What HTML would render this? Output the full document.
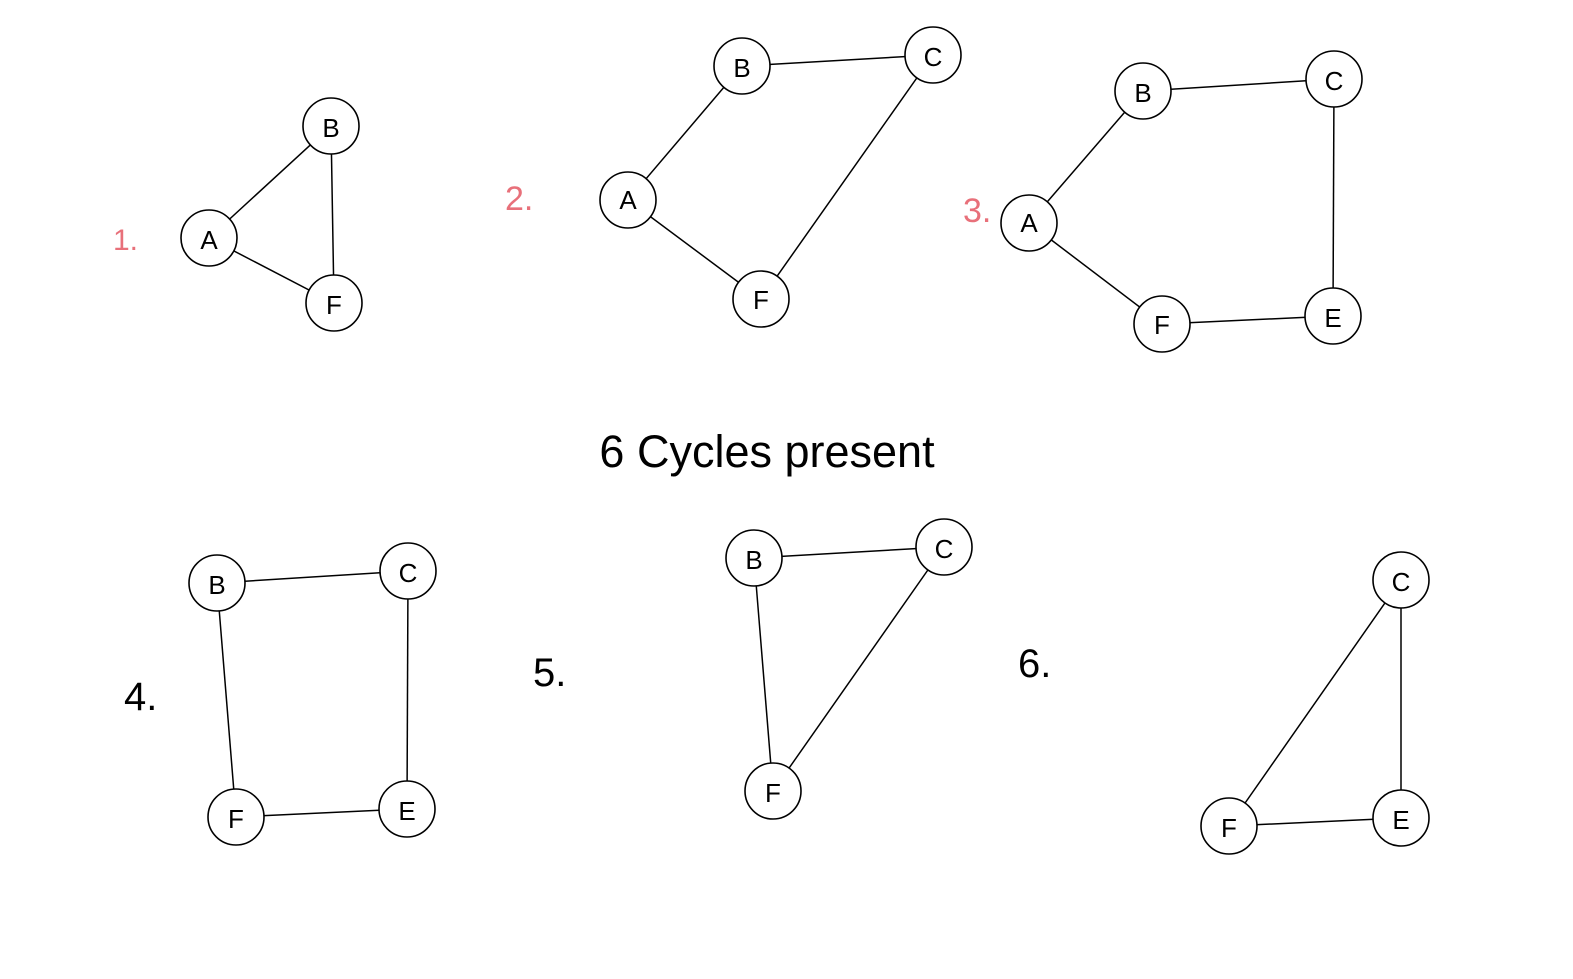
<!DOCTYPE html>
<html><head><meta charset="utf-8"><style>
html,body{margin:0;padding:0;background:#fff;}
svg{display:block;}
.n{fill:#fff;stroke:#000;stroke-width:1.6;}
.e{stroke:#000;stroke-width:1.5;fill:none;}
.t{font-family:"Liberation Sans",sans-serif;font-size:26px;text-anchor:middle;dominant-baseline:central;font-weight:300;}
.r{font-family:"Liberation Sans",sans-serif;font-size:34px;fill:#e8707a;font-weight:300;}
.k{font-family:"Liberation Sans",sans-serif;font-size:40px;fill:#000;font-weight:300;}
</style></head><body>
<svg width="1573" height="979" viewBox="0 0 1573 979" xmlns="http://www.w3.org/2000/svg">
<line class="e" x1="331" y1="126" x2="209" y2="238"/>
<line class="e" x1="331" y1="126" x2="334" y2="303"/>
<line class="e" x1="209" y1="238" x2="334" y2="303"/>
<line class="e" x1="742" y1="66" x2="933" y2="55"/>
<line class="e" x1="742" y1="66" x2="628" y2="200"/>
<line class="e" x1="628" y1="200" x2="761" y2="299"/>
<line class="e" x1="933" y1="55" x2="761" y2="299"/>
<line class="e" x1="1143" y1="91" x2="1334" y2="79"/>
<line class="e" x1="1143" y1="91" x2="1029" y2="223"/>
<line class="e" x1="1029" y1="223" x2="1162" y2="324"/>
<line class="e" x1="1162" y1="324" x2="1333" y2="316"/>
<line class="e" x1="1334" y1="79" x2="1333" y2="316"/>
<line class="e" x1="217" y1="583" x2="408" y2="571"/>
<line class="e" x1="217" y1="583" x2="236" y2="817"/>
<line class="e" x1="236" y1="817" x2="407" y2="809"/>
<line class="e" x1="408" y1="571" x2="407" y2="809"/>
<line class="e" x1="754" y1="558" x2="944" y2="547"/>
<line class="e" x1="754" y1="558" x2="773" y2="791"/>
<line class="e" x1="944" y1="547" x2="773" y2="791"/>
<line class="e" x1="1401" y1="580" x2="1229" y2="826"/>
<line class="e" x1="1401" y1="580" x2="1401" y2="818"/>
<line class="e" x1="1229" y1="826" x2="1401" y2="818"/>

<g>
<circle class="n" cx="331" cy="126" r="28"/><text class="t" x="331" y="128">B</text>
<circle class="n" cx="209" cy="238" r="28"/><text class="t" x="209" y="240">A</text>
<circle class="n" cx="334" cy="303" r="28"/><text class="t" x="334" y="305">F</text>
<circle class="n" cx="742" cy="66" r="28"/><text class="t" x="742" y="68">B</text>
<circle class="n" cx="933" cy="55" r="28"/><text class="t" x="933" y="57">C</text>
<circle class="n" cx="628" cy="200" r="28"/><text class="t" x="628" y="200">A</text>
<circle class="n" cx="761" cy="299" r="28"/><text class="t" x="761" y="300">F</text>
<circle class="n" cx="1143" cy="91" r="28"/><text class="t" x="1143" y="93">B</text>
<circle class="n" cx="1334" cy="79" r="28"/><text class="t" x="1334" y="81">C</text>
<circle class="n" cx="1029" cy="223" r="28"/><text class="t" x="1029" y="223">A</text>
<circle class="n" cx="1162" cy="324" r="28"/><text class="t" x="1162" y="325">F</text>
<circle class="n" cx="1333" cy="316" r="28"/><text class="t" x="1333" y="318">E</text>
<circle class="n" cx="217" cy="583" r="28"/><text class="t" x="217" y="585">B</text>
<circle class="n" cx="408" cy="571" r="28"/><text class="t" x="408" y="573">C</text>
<circle class="n" cx="236" cy="817" r="28"/><text class="t" x="236" y="819">F</text>
<circle class="n" cx="407" cy="809" r="28"/><text class="t" x="407" y="811">E</text>
<circle class="n" cx="754" cy="558" r="28"/><text class="t" x="754" y="560">B</text>
<circle class="n" cx="944" cy="547" r="28"/><text class="t" x="944" y="549">C</text>
<circle class="n" cx="773" cy="791" r="28"/><text class="t" x="773" y="793">F</text>
<circle class="n" cx="1401" cy="580" r="28"/><text class="t" x="1401" y="582">C</text>
<circle class="n" cx="1229" cy="826" r="28"/><text class="t" x="1229" y="828">F</text>
<circle class="n" cx="1401" cy="818" r="28"/><text class="t" x="1401" y="820">E</text>
</g>

<text class="r" x="113" y="250" style="font-size:30px">1.</text>
<text class="r" x="505" y="210">2.</text>
<text class="r" x="963" y="222">3.</text>
<text class="k" x="124" y="710">4.</text>
<text class="k" x="533" y="686">5.</text>
<text class="k" x="1018" y="677">6.</text>

<text x="767" y="467" style="font-family:'Liberation Sans',sans-serif;font-size:45px;text-anchor:middle;fill:#000">6 Cycles present</text>
</svg>
</body></html>
